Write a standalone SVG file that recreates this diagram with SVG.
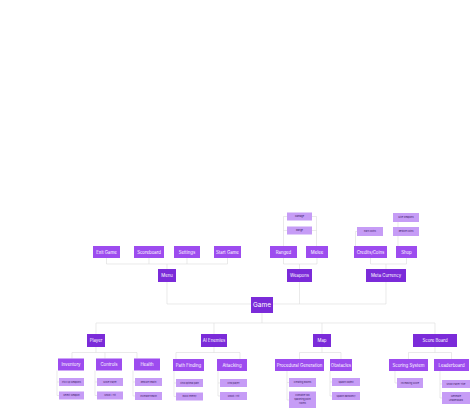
<svg xmlns="http://www.w3.org/2000/svg" width="474" height="408" viewBox="0 0 474 408">
<style>
.c{fill:none;stroke:#dcdcdc;stroke-width:0.6}
.n1 rect{fill:#7b2bd9}
.n2 rect{fill:#9d4cef}
.n3 rect{fill:#c69cf6}
text{font-family:Inter,"Liberation Sans",sans-serif;text-anchor:middle;dominant-baseline:central}
.n1 text,.n2 text{fill:#fff;font-size:4.3px}
.n3 text{fill:#3b1a66;font-size:2.3px}
.g text{font-size:6.5px}
</style>
<rect width="474" height="408" fill="#fff"/>
<g id="connectors">
<path class="c" d="M106.5 258V264H227.5V258M149 258V264M187 258V264M167 264V269"/>
<path class="c" d="M283.5 258V264H317V258M299.5 264V269"/>
<path class="c" d="M370.5 258V264H406.5V258M386 264V269"/>
<path class="c" d="M167 282V304H386V282M299.5 282V304"/>
<path class="c" d="M283.5 246V216.5H287M283.5 230.5H287M316.5 246V216.5H312M316.5 230.5H312"/>
<path class="c" d="M355.5 246V231.5H357"/>
<path class="c" d="M398 246V217.5H393M398 231.5H393"/>
<path class="c" d="M262 313V323M96 334V323H435V334M214 323V334M322 323V334"/>
<path class="c" d="M72 358.5V352.5H137V358.5M105 352.5V358.5M96 347V352.5"/>
<path class="c" d="M176 359V352.5H240V359M214 347V352.5"/>
<path class="c" d="M299.5 359V352.5H341V359M322 347V352.5"/>
<path class="c" d="M408.5 359V352.5H451.5V359M435 347V352.5"/>
<path class="c" d="M57 370.5V395.5H59M57 382H59"/>
<path class="c" d="M95 370.5V395.5H97M95 382H97"/>
<path class="c" d="M133 370.5V396H135M133 382H135"/>
<path class="c" d="M174 371V396.5H176M174 383H176"/>
<path class="c" d="M218 371V396H220M218 383H220"/>
<path class="c" d="M287 371V400H289M287 382.5H289"/>
<path class="c" d="M330 371V396H332M330 382H332"/>
<path class="c" d="M395 371V383H397"/>
<path class="c" d="M440 371V398H442M440 384H442"/>
</g>
<g id="game" class="n1 g"><rect x="251" y="297" width="22" height="16"/><text x="262" y="305">Game</text></g>
<g id="menu" class="n1"><rect x="158" y="269" width="18" height="13"/><text x="167" y="275.5">Menu</text></g>
<g id="weapons" class="n1"><rect x="287" y="269" width="25" height="13"/><text x="299.5" y="275.5">Weapons</text></g>
<g id="meta-currency" class="n1"><rect x="366" y="269" width="40" height="13"/><text x="386" y="275.5">Meta Currency</text></g>
<g id="exit-game" class="n2"><rect x="93" y="246" width="27" height="12"/><text x="106.5" y="252">Exit Game</text></g>
<g id="scoreboard" class="n2"><rect x="134" y="246" width="30" height="12"/><text x="149" y="252">Scoreboard</text></g>
<g id="settings" class="n2"><rect x="174" y="246" width="26" height="12"/><text x="187" y="252">Settings</text></g>
<g id="start-game" class="n2"><rect x="214" y="246" width="27" height="12"/><text x="227.5" y="252">Start Game</text></g>
<g id="ranged" class="n2"><rect x="270" y="246" width="27" height="12"/><text x="283.5" y="252">Ranged</text></g>
<g id="melee" class="n2"><rect x="306" y="246" width="22" height="12"/><text x="317" y="252">Melee</text></g>
<g id="credits-coins" class="n2"><rect x="354" y="246" width="33" height="12"/><text x="370.5" y="252">Credits/Coins</text></g>
<g id="shop" class="n2"><rect x="396" y="246" width="21" height="12"/><text x="406.5" y="252">Shop</text></g>
<g id="damage" class="n3"><rect x="287" y="212.5" width="25" height="8"/><text x="299.5" y="216.5">Damage</text></g>
<g id="range" class="n3"><rect x="287" y="226.5" width="25" height="8"/><text x="299.5" y="230.5">Range</text></g>
<g id="earn-coins" class="n3"><rect x="357" y="227" width="26" height="9"/><text x="370" y="231.5">Earn Coins</text></g>
<g id="give-weapons" class="n3"><rect x="393" y="213" width="26" height="9"/><text x="406" y="217.5">Give weapons</text></g>
<g id="restore-coins" class="n3"><rect x="393" y="227" width="26" height="9"/><text x="406" y="231.5">Restore coins</text></g>
<g id="player" class="n1"><rect x="87" y="334" width="18" height="13"/><text x="96" y="340.5">Player</text></g>
<g id="ai-enemies" class="n1"><rect x="201" y="334" width="26" height="13"/><text x="214" y="340.5">AI Enemies</text></g>
<g id="map" class="n1"><rect x="313" y="334" width="18" height="13"/><text x="322" y="340.5">Map</text></g>
<g id="score-board" class="n1"><rect x="413" y="334" width="44" height="13"/><text x="435" y="340.5">Score Board</text></g>
<g id="inventory" class="n2"><rect x="58" y="358.5" width="26" height="12"/><text x="71" y="364.5">Inventory</text></g>
<g id="controls" class="n2"><rect x="96" y="358.5" width="26" height="12"/><text x="109" y="364.5">Controls</text></g>
<g id="health" class="n2"><rect x="134" y="358.5" width="26" height="12"/><text x="147" y="364.5">Health</text></g>
<g id="path-finding" class="n2"><rect x="173" y="359" width="31" height="12"/><text x="188.5" y="365">Path Finding</text></g>
<g id="attacking" class="n2"><rect x="217" y="359" width="30" height="12"/><text x="232" y="365">Attacking</text></g>
<g id="procedural-generation" class="n2"><rect x="275" y="359" width="49" height="12"/><text x="299.5" y="365">Procedural Generation</text></g>
<g id="obstacles" class="n2"><rect x="330" y="359" width="22" height="12"/><text x="341" y="365">Obstacles</text></g>
<g id="scoring-system" class="n2"><rect x="389" y="359" width="39" height="12"/><text x="408.5" y="365">Scoring System</text></g>
<g id="leaderboard" class="n2"><rect x="434" y="359" width="35" height="12"/><text x="451.5" y="365">Leaderboard</text></g>
<g id="pick-up-weapons" class="n3"><rect x="59" y="378" width="25" height="8"/><text x="71.5" y="382">Pick up Weapons</text></g>
<g id="select-weapon" class="n3"><rect x="59" y="391.5" width="25" height="8"/><text x="71.5" y="395.5">Select Weapon</text></g>
<g id="move-player" class="n3"><rect x="97" y="378" width="26" height="8"/><text x="110" y="382">Move Player</text></g>
<g id="shoot-hit-1" class="n3"><rect x="97" y="391.5" width="26" height="8"/><text x="110" y="395.5">Shoot / Hit</text></g>
<g id="reduce-health" class="n3"><rect x="135" y="378" width="27" height="8"/><text x="148.5" y="382">Reduce health</text></g>
<g id="increase-health" class="n3"><rect x="135" y="392" width="27" height="8"/><text x="148.5" y="396">Increase health</text></g>
<g id="find-optimal-path" class="n3"><rect x="176" y="379" width="27" height="8"/><text x="189.5" y="383">Find optimal path</text></g>
<g id="block-enemy" class="n3"><rect x="176" y="392.5" width="27" height="8"/><text x="189.5" y="396.5">Block enemy</text></g>
<g id="find-player" class="n3"><rect x="220" y="379" width="27" height="8"/><text x="233.5" y="383">Find player</text></g>
<g id="shoot-hit-2" class="n3"><rect x="220" y="392" width="27" height="8"/><text x="233.5" y="396">Shoot / Hit</text></g>
<g id="creating-rooms" class="n3"><rect x="289" y="378" width="27" height="9"/><text x="302.5" y="382.5">Creating Rooms</text></g>
<g id="combine-rooms" class="n3"><rect x="289" y="391.5" width="27" height="17"/><text x="302.5" y="395.5">Combine two</text><text x="302.5" y="399.5">spawning point</text><text x="302.5" y="403.5">rooms</text></g>
<g id="spawn-object" class="n3"><rect x="332" y="378" width="28" height="8"/><text x="346" y="382">Spawn Object</text></g>
<g id="spawn-randomly" class="n3"><rect x="332" y="392" width="28" height="8"/><text x="346" y="396">Spawn Randomly</text></g>
<g id="increasing-score" class="n3"><rect x="397" y="378" width="26" height="10"/><text x="410" y="383">Increasing Score</text></g>
<g id="show-player-title" class="n3"><rect x="442" y="380" width="28" height="8"/><text x="456" y="384">Show Player Title</text></g>
<g id="generate-leaderboard" class="n3"><rect x="442" y="392" width="28" height="12"/><text x="456" y="396">Generate</text><text x="456" y="400">Leaderboard</text></g>
</svg>
